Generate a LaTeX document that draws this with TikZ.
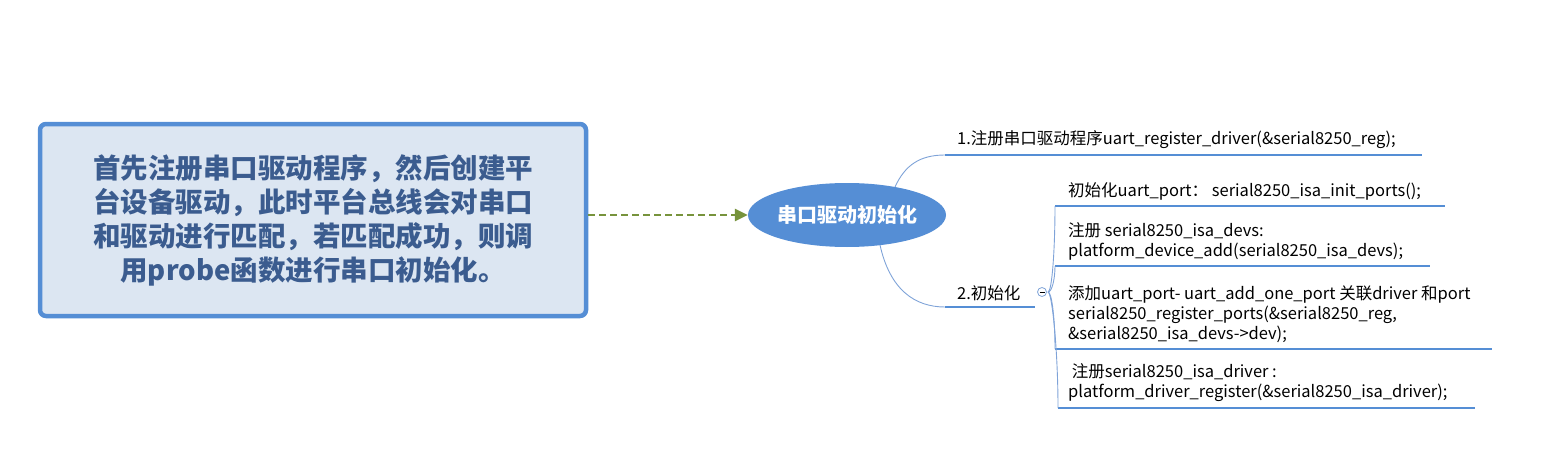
\documentclass[tikz,border=0pt]{standalone}
\usepackage{fontspec}
\setmainfont{Carlito}
\newfontfamily\cjk{Noto Sans CJK SC}
\usetikzlibrary{shapes.geometric,arrows.meta}
\definecolor{bord}{HTML}{558ED5}
\definecolor{boxfill}{HTML}{DCE6F2}
\definecolor{boxtxt}{HTML}{3B5C8F}
\definecolor{grn}{HTML}{77933C}
\definecolor{thin}{HTML}{7FA3D8}
\begin{document}
\begin{tikzpicture}[x=1pt,y=-1pt,
  lbl/.style={anchor=south west,inner sep=0pt,font=\fontsize{16.5}{20}\selectfont\cjk,align=left},
  uline/.style={draw=bord,line width=2.4pt},
  conn/.style={draw=thin,line width=0.9pt}]
\useasboundingbox (0,0) rectangle (1567,460);
\node[draw=bord,line width=4.5pt,fill=boxfill,rounded corners=6pt,minimum width=546pt,minimum height=192pt,
  align=center,text=boxtxt,font=\fontsize{27.5}{34}\selectfont\cjk\bfseries] (box) at (313,220)
  {首先注册串口驱动程序，然后创建平\\台设备驱动，此时平台总线会对串口\\和驱动进行匹配，若匹配成功，则调\\用probe函数进行串口初始化。};
\node[ellipse,fill=bord,minimum width=192pt,minimum height=64pt,inner sep=0pt,text=white,
  font=\fontsize{20}{22}\selectfont\cjk\bfseries] (root) at (847,215) {串口驱动初始化};
\draw[grn,line width=2.8pt,dash pattern=on 7pt off 4pt,-{Triangle[length=13pt,width=12pt]}] (box.east |- root) -- (root.west);
% branch 1
\coordinate (b1s) at (895,187); \coordinate (b1a) at (945,155); \coordinate (b1b) at (1422,155);
\draw[conn] (b1s) .. controls (905,165) and (920,155) .. (b1a);
\draw[uline] (b1a) -- (b1b);
\node[lbl] (t1) at (957,149) {1.注册串口驱动程序uart\_register\_driver(\&serial8250\_reg);};
% branch 2
\coordinate (b2s) at (880,245); \coordinate (b2a) at (945,307); \coordinate (b2b) at (1035,307);
\draw[conn] (b2s) .. controls (890,290) and (915,307) .. (b2a);
\draw[uline] (b2a) -- (b2b);
\node[lbl] (t2) at (957,301) {2.初始化};
\node[circle,draw=thin,line width=0.8pt,inner sep=0pt,minimum size=9pt] (col) at (1042,292) {};
\draw[thin,line width=0.8pt] (1039.5,292) -- (1044.5,292);
\coordinate (hub) at (1048,292);
% sub items
\foreach \n/\y/\xa/\xb in {s1/206/1055/1445, s2/266/1055/1430, s3/349/1055/1492, s4/408/1058/1475}{
  \coordinate (\n a) at (\xa,\y); \coordinate (\n b) at (\xb,\y);
  \draw[uline] (\n a) -- (\n b);
  \draw[conn] (hub) .. controls (1052,292) and (\xa,{(292+\y)/2}) .. (\n a);
}
\node[lbl] (u1) at (1068,200) {初始化uart\_port： serial8250\_isa\_init\_ports();};
\node[lbl] (u2) at (1068,260) {注册 serial8250\_isa\_devs:\\platform\_device\_add(serial8250\_isa\_devs);};
\node[lbl] (u3) at (1068,343) {添加uart\_port- uart\_add\_one\_port 关联driver 和port\\serial8250\_register\_ports(\&serial8250\_reg,\\\&serial8250\_isa\_devs->dev);};
\node[lbl] (u4) at (1068,402) {\ 注册serial8250\_isa\_driver :\\platform\_driver\_register(\&serial8250\_isa\_driver);};
\end{tikzpicture}
\end{document}
